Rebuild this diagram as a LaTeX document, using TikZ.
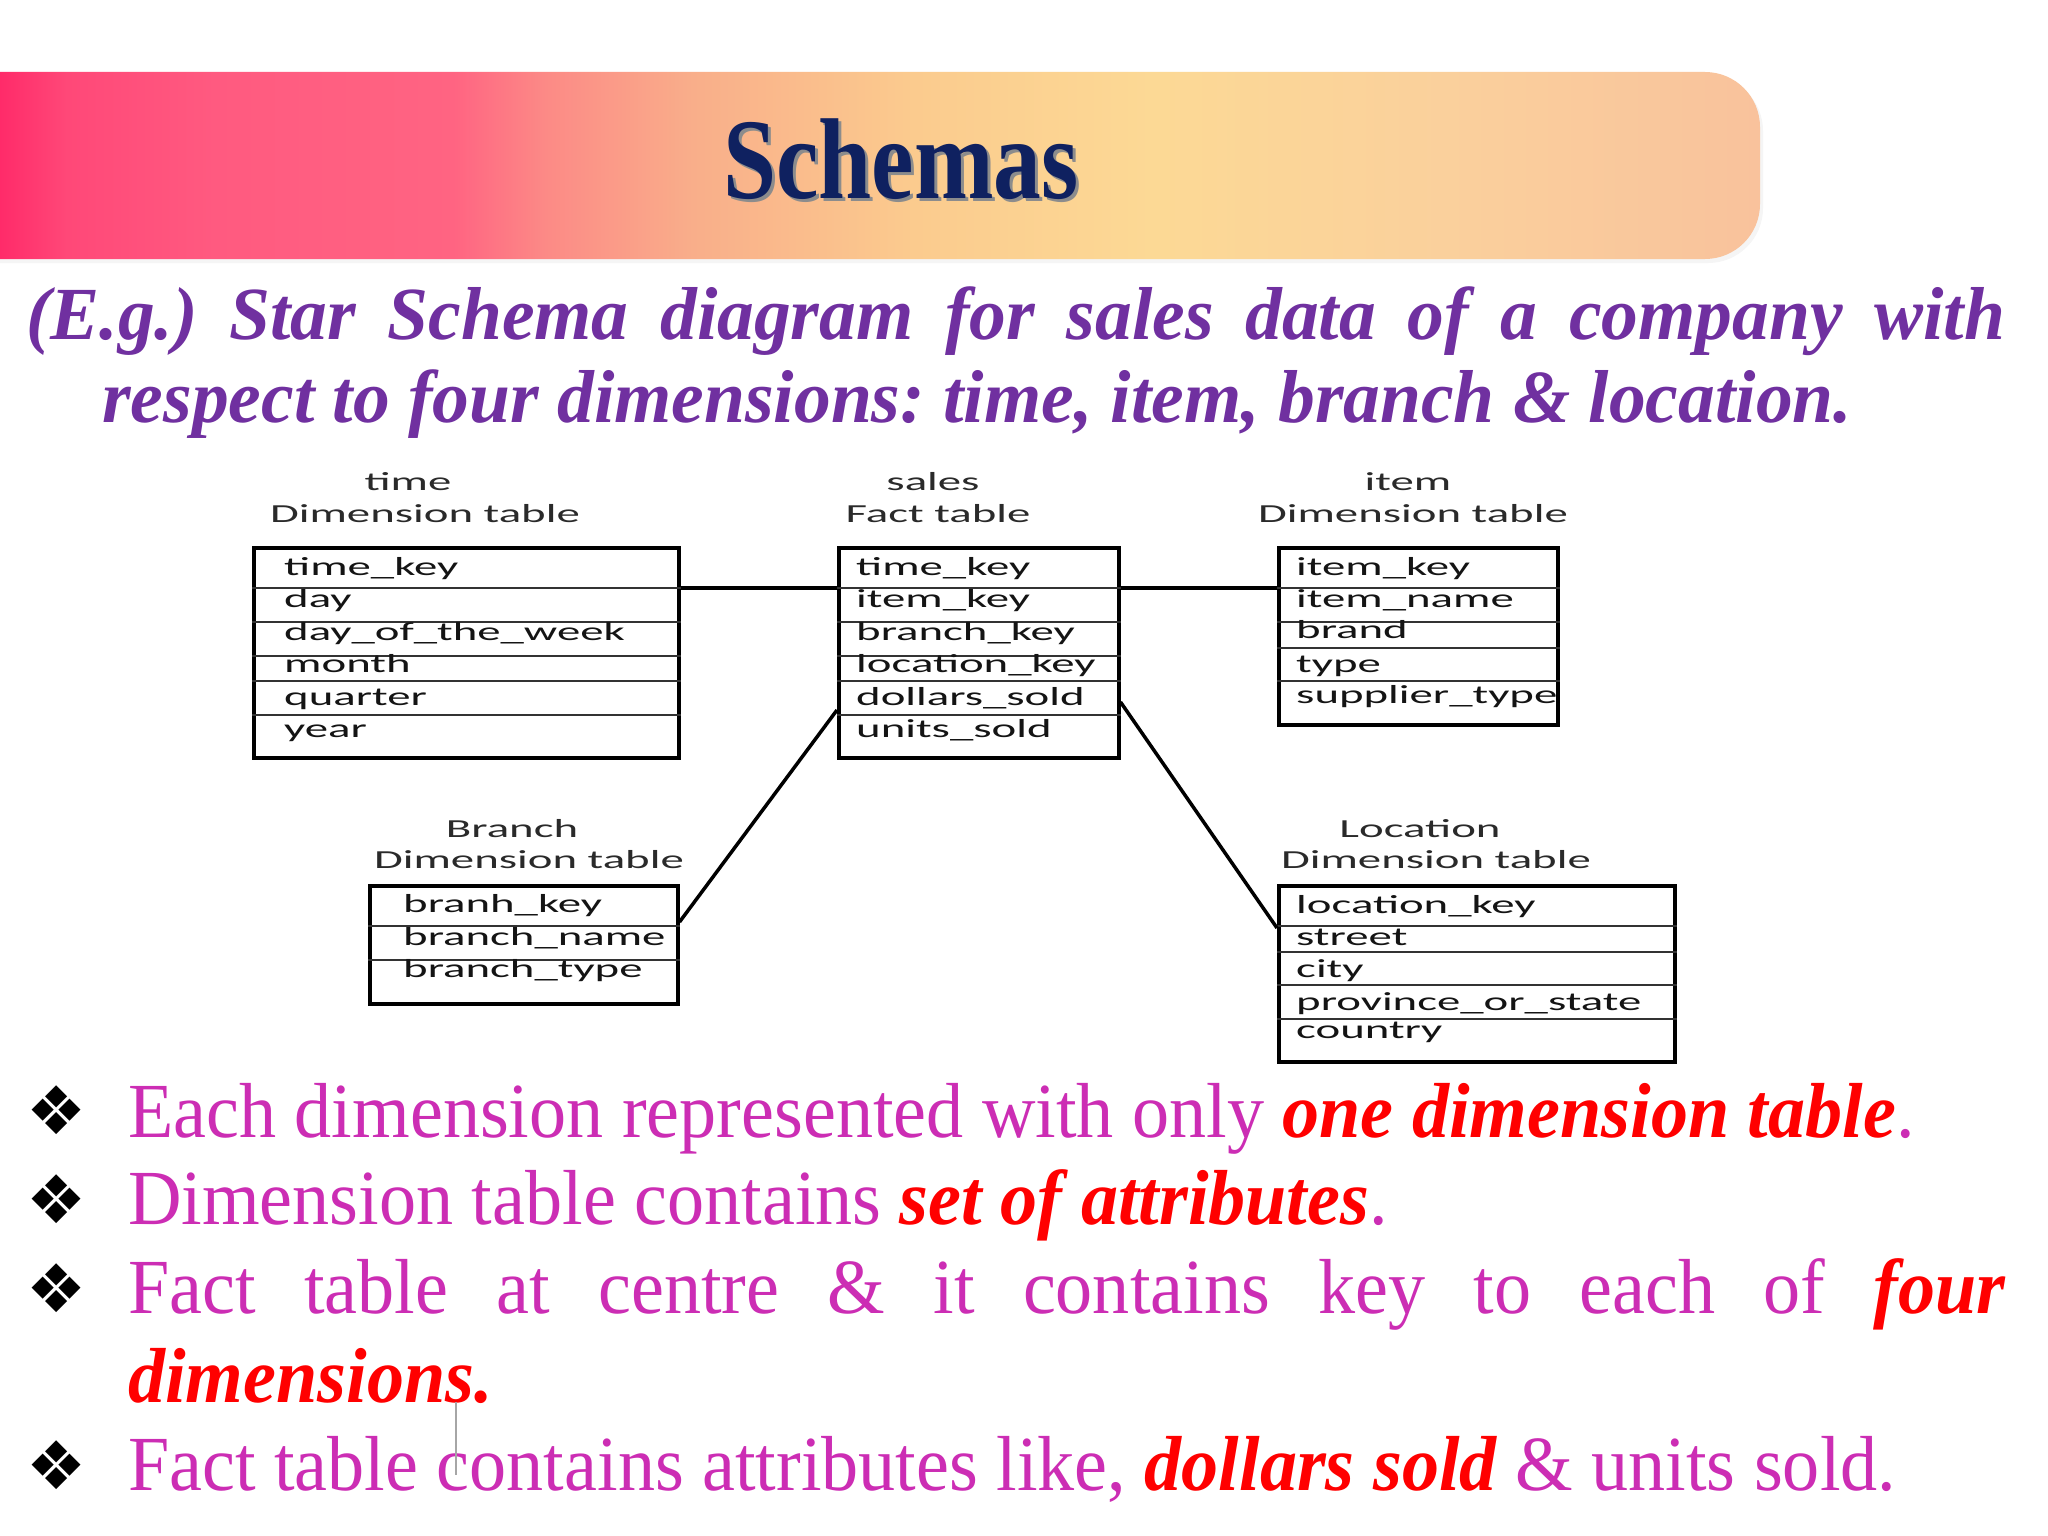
\documentclass[tikz,border=0pt]{standalone}
\usepackage{fontspec}
\setmainfont{Liberation Serif}
\newfontfamily\titlefont[FakeStretch=0.83]{Liberation Serif}
\newfontfamily\subfont[FakeStretch=0.98]{Liberation Serif}
\newfontfamily\bulfont[FakeStretch=0.95]{Liberation Serif}
\newfontfamily\tabfont[FakeStretch=1.8]{Carlito}
\newfontfamily\symfont{DejaVu Sans}
\usetikzlibrary{calc}
\frenchspacing
\definecolor{navy}{HTML}{0F2160}
\definecolor{subpurple}{HTML}{7030A0}
\definecolor{mag}{HTML}{CC2DB4}
\definecolor{hl}{HTML}{FF0000}
\definecolor{tabtext}{HTML}{141414}
\definecolor{headtext}{HTML}{2A2A2A}
\definecolor{b0}{HTML}{FF2868}
\definecolor{b1}{HTML}{FF4878}
\definecolor{b2}{HTML}{FF5A80}
\definecolor{b2b}{HTML}{FF6482}
\definecolor{b3}{HTML}{FC8A86}
\definecolor{b4}{HTML}{F9AE8A}
\definecolor{b5}{HTML}{FBCB8E}
\definecolor{b6}{HTML}{FCD995}
\definecolor{b7}{HTML}{FAD09C}
\definecolor{b8}{HTML}{F9C29C}
\pgfdeclarehorizontalshading{bannershade}{100bp}{color(0bp)=(b0); color(27bp)=(b0); color(29bp)=(b1); color(33bp)=(b2); color(39.5bp)=(b2b); color(42bp)=(b3); color(46bp)=(b4); color(52bp)=(b5); color(58.5bp)=(b6); color(66.5bp)=(b7); color(75bp)=(b8); color(100bp)=(b8)}
\begin{document}
\begin{tikzpicture}[x=1pt,y=-1pt,
  tbl/.style={draw=black, line width=3.5pt, anchor=north west, inner sep=0pt, fill=none},
  rowline/.style={draw=black!80, line width=1.8pt},
  conn/.style={draw=black, line width=3.5pt},
  cell/.style={anchor=base west, inner sep=0pt, text=tabtext, font=\tabfont\fontsize{26}{28}\selectfont},
  head/.style={anchor=base, inner sep=0pt, text=headtext, font=\tabfont\fontsize{26}{28}\selectfont},
  bul/.style={anchor=base west, inner sep=0pt, font=\bulfont\fontsize{78}{80}\selectfont},
  sub/.style={anchor=base west, inner sep=0pt, text=subpurple, font=\subfont\bfseries\itshape\fontsize{75}{78}\selectfont},
  sym/.style={anchor=center, inner sep=0pt, font=\symfont\fontsize{67}{70}\selectfont}
]
\useasboundingbox (0,0) rectangle (2048,1536);
\fill[white] (0,0) rectangle (2048,1536);
% banner
\fill[black!4, rounded corners=55pt] (-80,76) rectangle (1763,263);
\shade[shading=bannershade, rounded corners=55pt] (-80,72) rectangle (1760,259);
\node[anchor=base, inner sep=0pt, text=black!45, font=\titlefont\bfseries\fontsize{115}{118}\selectfont] (titleshadow) at (904,201) {Schemas};
\node[anchor=base, inner sep=0pt, text=navy, font=\titlefont\bfseries\fontsize{115}{118}\selectfont] (title) at (901,198) {Schemas};
% subtitle
\node[sub] (sub1) at (26,339) {\makebox[1979pt][s]{(E.g.) Star Schema diagram for sales data of a company with}};
\node[sub] (sub2) at (102,422) {respect to four dimensions: time, item, branch \& location.};
% tables
\node[tbl, minimum width=425pt, minimum height=210pt] (time) at (252,546) {};
\node[tbl, minimum width=280pt, minimum height=210pt] (sales) at (837,546) {};
\node[tbl, minimum width=279pt, minimum height=177pt] (item) at (1277,546) {};
\node[tbl, minimum width=308pt, minimum height=118pt] (branch) at (368,884) {};
\node[tbl, minimum width=396pt, minimum height=176pt] (loc) at (1277,884) {};
% row lines
\foreach \y in {588,622,656,681,715} {
  \draw[rowline] (time.west |- 0,\y) -- (time.east |- 0,\y);
  \draw[rowline] (sales.west |- 0,\y) -- (sales.east |- 0,\y);
}
\foreach \y in {588,622,648,681} {
  \draw[rowline] (item.west |- 0,\y) -- (item.east |- 0,\y);
}
\foreach \y in {926,960} {
  \draw[rowline] (branch.west |- 0,\y) -- (branch.east |- 0,\y);
}
\foreach \y in {926,952,985,1019} {
  \draw[rowline] (loc.west |- 0,\y) -- (loc.east |- 0,\y);
}
% headers
\node[head] (timeh1) at (408,490) {time};
\node[head] (timeh2) at (425,522) {Dimension table};
\node[head] (salesh1) at (933,490) {sales};
\node[head] (salesh2) at (938,522) {Fact table};
\node[head] (itemh1) at (1408,490) {item};
\node[head] (itemh2) at (1413,522) {Dimension table};
\node[head] (branchh1) at (512,837) {Branch};
\node[head] (branchh2) at (529,868) {Dimension table};
\node[head] (loch1) at (1420,837) {Location};
\node[head] (loch2) at (1436,868) {Dimension table};
% cells
\node[cell] (t1) at (284,575) {time\_key};
\node[cell] (t2) at (284,607) {day};
\node[cell] (t3) at (284,640) {day\_of\_the\_week};
\node[cell] (t4) at (284,672) {month};
\node[cell] (t5) at (284,705) {quarter};
\node[cell] (t6) at (284,737) {year};
\node[cell] (s1) at (856,575) {time\_key};
\node[cell] (s2) at (856,607) {item\_key};
\node[cell] (s3) at (856,640) {branch\_key};
\node[cell] (s4) at (856,672) {location\_key};
\node[cell] (s5) at (856,705) {dollars\_sold};
\node[cell] (s6) at (856,737) {units\_sold};
\node[cell] (i1) at (1296,575) {item\_key};
\node[cell] (i2) at (1296,607) {item\_name};
\node[cell] (i3) at (1296,638) {brand};
\node[cell] (i4) at (1296,672) {type};
\node[cell] (i5) at (1296,703) {supplier\_type};
\node[cell] (br1) at (403,912) {branh\_key};
\node[cell] (br2) at (403,945) {branch\_name};
\node[cell] (br3) at (403,977) {branch\_type};
\node[cell] (l1) at (1296,913) {location\_key};
\node[cell] (l2) at (1296,945) {street};
\node[cell] (l3) at (1296,977) {city};
\node[cell] (l4) at (1296,1010) {province\_or\_state};
\node[cell] (l5) at (1296,1038) {country};
% connectors
\coordinate (ya) at (0,588);
\coordinate (yb1) at (0,710);
\coordinate (yb2) at (0,922);
\coordinate (yc1) at (0,702);
\coordinate (yc2) at (0,928);
\draw[conn] (time.east |- ya) -- (sales.west |- ya);
\draw[conn] (sales.east |- ya) -- (item.west |- ya);
\draw[conn] (sales.west |- yb1) -- (branch.east |- yb2);
\draw[conn] (sales.east |- yc1) -- (loc.west |- yc2);
% bullets
\node[sym] (sym1) at (57,1110) {❖};
\node[sym] (sym2) at (57,1199) {❖};
\node[sym] (sym3) at (57,1288) {❖};
\node[sym] (sym4) at (57,1465) {❖};
\node[bul] (bt1) at (128,1137) {{\color{mag}Each dimension represented with only }{\color{hl}\bfseries\itshape one dimension table}{\color{mag}.}};
\node[bul] (bt2) at (128,1224) {{\color{mag}Dimension table contains }{\color{hl}\bfseries\itshape set of attributes}{\color{mag}.}};
\node[bul] (bt3) at (128,1313) {\makebox[1877pt][s]{\color{mag}Fact table at centre \& it contains key to each of {\color{hl}\bfseries\itshape four}}};
\node[bul] (bt3b) at (128,1402) {{\color{hl}\bfseries\itshape dimensions.}};
\node[bul] (bt4) at (128,1490) {{\color{mag}Fact table contains attributes like, }{\color{hl}\bfseries\itshape dollars sold}\ {\color{mag}\& units sold.}};
% cursor artifact
\draw[black!35, line width=1.2pt] (456,1402) -- (456,1475);
\end{tikzpicture}
\end{document}
